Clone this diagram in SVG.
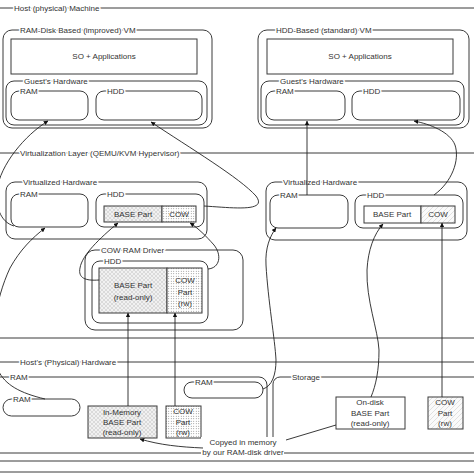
<svg xmlns="http://www.w3.org/2000/svg" width="474" height="474" viewBox="0 0 474 474">
<defs>
<style>
.f{fill:none;stroke:#3a3a3a;stroke-width:1}
.b{stroke:#3a3a3a;stroke-width:1}
.t{font-family:"Liberation Sans",Arial,sans-serif;font-size:8px;fill:#333}
.l{paint-order:stroke;stroke:#fff;stroke-width:3px;stroke-linejoin:round}
.m{text-anchor:middle}
.k{fill:none;stroke:#222;stroke-width:0.9}
.ka{fill:none;stroke:#222;stroke-width:0.9;marker-end:url(#a)}
</style>
<marker id="a" viewBox="0 0 8 8" refX="7.5" refY="4" markerWidth="5" markerHeight="5" orient="auto"><path d="M0,0L8,4L0,8z" fill="#111"/></marker>
<pattern id="cross" width="4" height="4" patternUnits="userSpaceOnUse"><rect width="4" height="4" fill="#f1f1f1"/><path d="M0,0L4,4M4,0L0,4" stroke="#c2c2c2" stroke-width="0.5"/></pattern>
<pattern id="dots" width="2.5" height="2.5" patternUnits="userSpaceOnUse"><rect width="2.5" height="2.5" fill="#fff"/><circle cx="1.25" cy="1.25" r="0.45" fill="#555"/></pattern>
<pattern id="diag" width="5" height="5" patternUnits="userSpaceOnUse"><rect width="5" height="5" fill="#fafafa"/><path d="M0,5L5,0M-1,1L1,-1M4,6L6,4" stroke="#cfcfcf" stroke-width="0.6"/></pattern>
</defs>
<rect width="474" height="474" fill="#fff"/>

<g id="host-machine">
<rect class="f" x="-10" y="8" width="494" height="464" rx="8"/>
<text class="t l" x="14" y="11">Host (physical) Machine</text>
</g>

<g id="vm-ramdisk">
<rect class="f" x="3" y="30" width="209" height="98" rx="9"/>
<text class="t l" x="20" y="33">RAM-Disk Based (improved) VM</text>
<rect class="f" x="11" y="39" width="186" height="35"/>
<text class="t m" x="104" y="59">SO + Applications</text>
<rect class="f" x="6" y="81" width="201" height="44" rx="8"/>
<text class="t l" x="24" y="84">Guest's Hardware</text>
<rect class="f" x="11" y="91" width="77" height="29" rx="8"/>
<text class="t l" x="20" y="94">RAM</text>
<rect class="f" x="96" y="91" width="106" height="29" rx="8"/>
<text class="t l" x="107" y="94">HDD</text>
</g>

<g id="vm-standard">
<rect class="f" x="258" y="30" width="211" height="98" rx="9"/>
<text class="t l" x="276" y="33">HDD-Based (standard) VM</text>
<rect class="f" x="267" y="39" width="186" height="35"/>
<text class="t m" x="360" y="59">SO + Applications</text>
<rect class="f" x="261" y="81" width="203" height="44" rx="8"/>
<text class="t l" x="280" y="84">Guest's Hardware</text>
<rect class="f" x="266" y="91" width="79" height="29" rx="8"/>
<text class="t l" x="276" y="94">RAM</text>
<rect class="f" x="352" y="91" width="108" height="29" rx="8"/>
<text class="t l" x="363" y="94">HDD</text>
</g>

<g id="virtualization-layer">
<rect class="f" x="-10" y="153" width="494" height="185" rx="8"/>
<text class="t l" x="20" y="156">Virtualization Layer (QEMU/KVM Hypervisor)</text>
</g>

<g id="virt-hw-left">
<rect class="f" x="6" y="182" width="201" height="57" rx="9"/>
<text class="t l" x="23" y="185">Virtualized Hardware</text>
<rect class="f" x="11" y="194" width="77" height="33" rx="8"/>
<text class="t l" x="20" y="197">RAM</text>
<rect class="f" x="96" y="194" width="108" height="33" rx="8"/>
<text class="t l" x="107" y="197">HDD</text>
<rect class="b" x="104" y="206" width="58" height="16" fill="url(#cross)"/>
<text class="t m" x="133" y="217">BASE Part</text>
<rect class="b" x="162" y="206" width="34" height="16" fill="url(#dots)"/>
<text class="t m" x="179" y="217">COW</text>
</g>

<g id="virt-hw-right">
<rect class="f" x="266" y="182" width="201" height="58" rx="9"/>
<text class="t l" x="283" y="185">Virtualized Hardware</text>
<rect class="f" x="270" y="195" width="78" height="33" rx="8"/>
<text class="t l" x="280" y="198">RAM</text>
<rect class="f" x="355" y="195" width="108" height="33" rx="8"/>
<text class="t l" x="367" y="198">HDD</text>
<rect class="b" x="364" y="206" width="57" height="17" fill="#fff"/>
<text class="t m" x="392" y="217">BASE Part</text>
<rect class="b" x="421" y="206" width="34" height="17" fill="url(#diag)"/>
<text class="t m" x="438" y="217">COW</text>
</g>

<g id="cow-ram-driver">
<rect class="f" x="85" y="250" width="158" height="80" rx="10"/>
<text class="t l" x="101" y="253">COW RAM Driver</text>
<rect class="f" x="92" y="261" width="116" height="62" rx="8"/>
<text class="t l" x="104" y="264">HDD</text>
<rect class="b" x="99" y="268" width="68" height="45" fill="url(#cross)"/>
<text class="t m" x="133" y="288">BASE Part</text>
<text class="t m" x="133" y="300">(read-only)</text>
<rect class="b" x="167" y="268" width="35" height="45" fill="url(#dots)"/>
<text class="t m" x="185" y="283">COW</text>
<text class="t m" x="185" y="295">Part</text>
<text class="t m" x="185" y="306">(rw)</text>
</g>

<g id="host-physical-hw">
<rect class="f" x="-10" y="362" width="494" height="99" rx="6"/>
<text class="t l" x="20" y="365">Host's (Physical) Hardware</text>
</g>

<g id="host-ram">
<rect class="f" x="-20" y="377" width="287" height="76" rx="8"/>
<text class="t l" x="10" y="380">RAM</text>
</g>

<g id="storage">
<rect class="f" x="273" y="377" width="220" height="76" rx="7"/>
<text class="t l" x="292" y="380">Storage</text>
</g>

<g id="ram-left">
<rect class="f" x="3" y="399" width="77" height="17" rx="8.5"/>
<text class="t l" x="13" y="402">RAM</text>
</g>

<g id="ram-right">
<rect class="f" x="184" y="382" width="79" height="16" rx="8"/>
<text class="t l" x="195" y="385">RAM</text>
</g>

<g id="inmemory-base">
<rect class="b" x="88" y="406" width="69" height="32" fill="url(#cross)"/>
<text class="t m" x="122" y="415">In-Memory</text>
<text class="t m" x="122" y="425">BASE Part</text>
<text class="t m" x="122" y="435">(read-only)</text>
</g>

<g id="inmemory-cow">
<rect class="b" x="166" y="406" width="35" height="32" fill="url(#dots)"/>
<text class="t m" x="183" y="414">COW</text>
<text class="t m" x="183" y="425">Part</text>
<text class="t m" x="183" y="435">(rw)</text>
</g>

<g id="ondisk-base">
<rect class="b" x="336" y="397" width="69" height="32" fill="#fff"/>
<text class="t m" x="370" y="405">On-disk</text>
<text class="t m" x="370" y="416">BASE Part</text>
<text class="t m" x="370" y="426">(read-only)</text>
</g>

<g id="ondisk-cow">
<rect class="b" x="428" y="397" width="35" height="32" fill="url(#diag)"/>
<text class="t m" x="445" y="405">COW</text>
<text class="t m" x="445" y="416">Part</text>
<text class="t m" x="445" y="426">(rw)</text>
</g>

<g id="connectors">
<path class="ka" d="M14,226 C0,222 -5,205 -3,190 C0,165 25,135 48,121"/>
<path class="ka" d="M204,206 C235,208 268,212 256,196 C240,178 190,148 151,122"/>
<path class="ka" d="M307,195 L307,121"/>
<path class="ka" d="M434,195 C452,182 460,160 455,145 C450,132 430,124 414,121"/>
<path class="ka" d="M45,399 C20,393 5,385 -2,370 C-12,345 -5,300 10,268 C20,250 32,238 45,228"/>
<path class="ka" d="M99,280 C85,281 78,278 80,268 C82,255 100,238 118,223"/>
<path class="ka" d="M208,269 C220,268 222,255 214,245 C206,236 198,228 190,223"/>
<path class="ka" d="M263,389 C272,386 276,375 276,360 C275,340 268,300 266,265 C265,248 270,236 276,228"/>
<path class="ka" d="M371,397 C376,385 379,370 379,350 C378,330 366,300 367,270 C368,250 374,234 383,224"/>
<path class="ka" d="M128,406 L128,313"/>
<path class="ka" d="M175,406 L175,313"/>
<path class="ka" d="M442,397 L442,223"/>
<path class="k" d="M336,425 L286,440"/>
<rect x="201" y="437" width="83" height="20" fill="#fff"/>
<path class="ka" d="M203,448 C180,447 160,445 140,439"/>
<text class="t m" x="243" y="445">Copyed in memory</text>
<text class="t m" x="243" y="455">by our RAM-disk driver</text>
</g>
</svg>
